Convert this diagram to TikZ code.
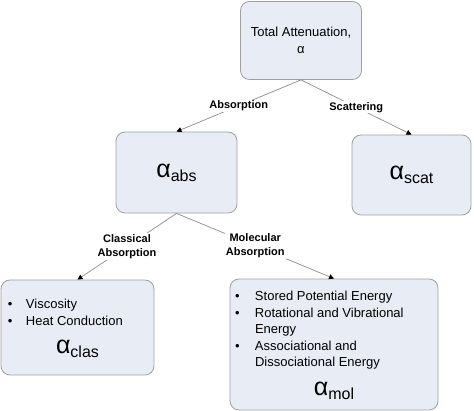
\documentclass[tikz,border=0pt]{standalone}
\usepackage{fontspec}
\setmainfont{Liberation Sans}
\usepackage{array}
\usetikzlibrary{arrows.meta,positioning}
\definecolor{boxfill}{HTML}{E8ECF5}
\definecolor{boxline}{HTML}{A0A0A0}
\definecolor{arcline}{HTML}{8C8C8C}
\newcommand{\alphasub}[1]{{\fontsize{25}{25}\selectfont α}\raisebox{-4pt}{\fontsize{16}{16}\selectfont #1}}
\tikzset{
  box/.style={draw=boxline, fill=boxfill, line width=0.8pt, rounded corners=9pt,
    align=center, inner sep=2pt, font=\fontsize{13}{16.5}\selectfont},
  lbl/.style={fill=white, inner sep=1pt, align=center,
    font=\bfseries\fontsize{11}{14}\selectfont},
  every edge/.style={draw=arcline, line width=0.7pt}
}
\begin{document}
\begin{tikzpicture}[x=1pt,y=1pt,node distance=130pt,on grid,
    >={Triangle[length=5pt,width=5pt,color=black]}]
   \useasboundingbox (0,0) rectangle (474,411);
   \node [box, minimum width=121pt, minimum height=78pt] (total) at (301,370.5)
     {Total Attenuation,\\ α};
   \node [box, minimum width=121pt, minimum height=81pt] (abs)
     [below left=132pt and 124.5pt of total] {\alphasub{abs}};
   \node [box, minimum width=119pt, minimum height=80pt] (scat)
     [below right=134.5pt and 110.5pt of total] {\alphasub{scat}};
   \node [box, minimum width=153pt, minimum height=95pt] (clas)
     [below left=155pt and 99pt of abs]
     {\begin{tabular}{@{}p{18pt}@{}>{\raggedright\arraybackslash}p{121pt}@{}}
        \textbullet & Viscosity\\
        \textbullet & Heat Conduction
      \end{tabular}\\[9pt]
      \alphasub{clas}};
   \node [box, minimum width=208pt, minimum height=131pt] (mol)
     [below right=172pt and 157.5pt of abs]
     {\begin{tabular}{@{}p{20pt}@{}>{\raggedright\arraybackslash}p{178pt}@{}}
        \textbullet & Stored Potential Energy\\
        \textbullet & Rotational and Vibrational Energy\\
        \textbullet & Associational and Dissociational Energy
      \end{tabular}\\[9pt]
      \alphasub{mol}};
    \path[->]
    (total.south) edge node [lbl] {Absorption} (abs.north)
                  edge node [lbl] {Scattering} (scat.north)
    (abs.south)   edge node [lbl] {Classical\\ Absorption} (clas.north)
                  edge node [lbl] {Molecular\\ Absorption} (mol.north);
\end{tikzpicture}
\end{document}
